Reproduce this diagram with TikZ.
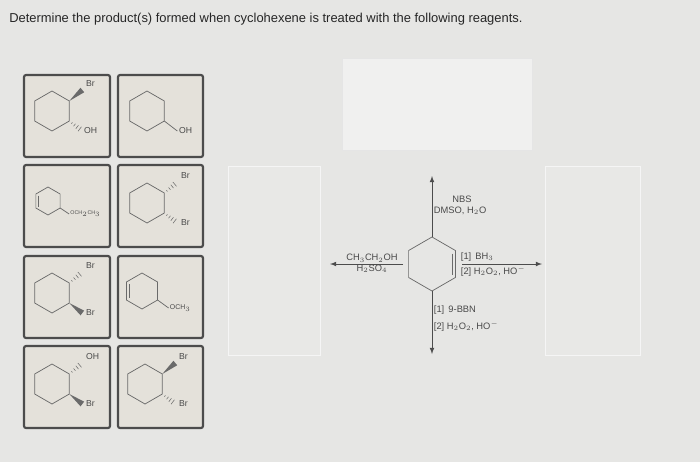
\documentclass[tikz,border=0pt]{standalone}
\usepackage{fontspec}
\setmainfont{Liberation Sans}
\usetikzlibrary{calc}
\definecolor{bg}{HTML}{E6E6E4}
\definecolor{tile}{HTML}{E4E1DA}
\definecolor{ink}{HTML}{6A6A6A}
\definecolor{txt}{HTML}{4A4A4A}
\tikzset{
  tilebox/.style={draw=black!70, line width=1.6pt, fill=tile, rounded corners=1.5pt},
  slot/.style={draw=black!10, line width=0.5pt, fill=white!40!bg},
  fslot/.style={draw=black!4, line width=0.4pt, fill=white!8!bg},
  bond/.style={draw=ink, line width=0.55pt},
  lab/.style={font=\fontsize{6.5}{7}\selectfont, text=txt, inner sep=1.2pt},
  wlab/.style={lab, inner sep=2.6pt},
  small/.style={font=\fontsize{4}{5}\selectfont, text=txt, inner sep=0.8pt},
  reag/.style={font=\fontsize{7}{8}\selectfont, text=txt, inner sep=0.5pt, align=left},
  arr/.style={draw=black!70, line width=0.6pt, -latex}
}
\newcommand\ring[3]{%
  \coordinate (vt) at (#1,#2-#3);
  \coordinate (vur) at ({#1+0.866*#3},{#2-0.5*#3});
  \coordinate (vlr) at ({#1+0.866*#3},{#2+0.5*#3});
  \coordinate (vb) at (#1,#2+#3);
  \coordinate (vll) at ({#1-0.866*#3},{#2+0.5*#3});
  \coordinate (vul) at ({#1-0.866*#3},{#2-0.5*#3});
  \draw[bond] (vt)--(vur)--(vlr)--(vb)--(vll)--(vul)--cycle;}
\newcommand\wedgeb[2]{\fill[ink] (#1) -- ($(#2)!2.2pt!90:(#1)$) -- ($(#2)!2.2pt!-90:(#1)$) -- cycle;}
\newcommand\hashb[2]{\foreach \t/\w in {0.2/0.6pt,0.4/1.1pt,0.6/1.6pt,0.8/2.1pt,1/2.5pt}{%
  \draw[ink, line width=0.4pt] ($(#1)!\t!(#2)!\w!90:(#2)$) -- ($(#1)!\t!(#2)!\w!-90:(#2)$);}}
\begin{document}
\begin{tikzpicture}[x=0.75pt,y=-0.75pt]
\fill[bg] (0,0) rectangle (700,462);
\useasboundingbox (0,0) rectangle (700,462);
\node[anchor=west, font=\fontsize{9.7}{11}\selectfont, text=black!85, inner sep=0] (title) at (9,19)
  {Determine the product(s) formed when cyclohexene is treated with the following reagents.};
\draw[slot] (342,58) rectangle (532,150);
\draw[fslot] (228,166) rectangle (320,355);
\draw[fslot] (545,166) rectangle (640,355);
\foreach \yy in {75,165,256,346}{
  \draw[tilebox] (24,\yy) rectangle (110,\yy+82);
  \draw[tilebox] (118,\yy) rectangle (203,\yy+82);}
% R1C1
\ring{52}{111}{20}
\coordinate (e1) at ($(vur)+(13,-11)$); \coordinate (e2) at ($(vlr)+(13,10)$);
\wedgeb{vur}{e1} \hashb{vlr}{e2}
\node[wlab,anchor=south west] (l1) at (e1) {Br};
\node[lab,anchor=west] (l2) at (e2) {OH};
% R1C2
\ring{147}{111}{20}
\coordinate (e1) at ($(vlr)+(13,10)$); \draw[bond] (vlr)--(e1);
\node[lab,anchor=west] (l3) at (e1) {OH};
% R2C1
\ring{48}{201}{14}
\draw[bond] ($(vul)+(2.5,1.5)$) -- ($(vll)+(2.5,-1.5)$);
\coordinate (e1) at ($(vlr)+(9,6)$); \draw[bond] (vlr)--(e1);
\node[small,anchor=west] (l4) at (e1) {OCH$_2$CH$_3$};
% R2C2
\ring{147}{203}{20}
\coordinate (e1) at ($(vur)+(13,-11)$); \coordinate (e2) at ($(vlr)+(13,10)$);
\hashb{vur}{e1} \hashb{vlr}{e2}
\node[wlab,anchor=south west] (l5) at (e1) {Br};
\node[wlab,anchor=west] (l6) at (e2) {Br};
% R3C1
\ring{52}{293}{20}
\coordinate (e1) at ($(vur)+(13,-11)$); \coordinate (e2) at ($(vlr)+(13,10)$);
\hashb{vur}{e1} \wedgeb{vlr}{e2}
\node[wlab,anchor=south west] (l7) at (e1) {Br};
\node[wlab,anchor=west] (l8) at (e2) {Br};
% R3C2
\ring{142}{291}{18}
\draw[bond] ($(vul)+(3,1.8)$) -- ($(vll)+(3,-1.8)$);
\coordinate (e1) at ($(vlr)+(11,8)$); \draw[bond] (vlr)--(e1);
\node[small,anchor=west,font=\fontsize{5.2}{6}\selectfont] (l9) at (e1) {OCH$_3$};
% R4C1
\ring{52}{384}{20}
\coordinate (e1) at ($(vur)+(13,-11)$); \coordinate (e2) at ($(vlr)+(13,10)$);
\hashb{vur}{e1} \wedgeb{vlr}{e2}
\node[wlab,anchor=south west] (l10) at (e1) {OH};
\node[wlab,anchor=west] (l11) at (e2) {Br};
% R4C2
\ring{145}{384}{20}
\coordinate (e1) at ($(vur)+(13,-11)$); \coordinate (e2) at ($(vlr)+(13,10)$);
\wedgeb{vur}{e1} \hashb{vlr}{e2}
\node[wlab,anchor=south west] (l12) at (e1) {Br};
\node[wlab,anchor=west] (l13) at (e2) {Br};
% central cyclohexene
\ring{432}{264}{27}
\coordinate (ct) at (vt); \coordinate (cb) at (vb);
\draw[bond] ($(vur)+(-3.5,3)$) -- ($(vlr)+(-3.5,-3)$);
\coordinate (upend) at (432,176); \coordinate (dnend) at (432,354);
\coordinate (lfst) at (403,264); \coordinate (lfend) at (330,264);
\coordinate (rtst) at (462,264); \coordinate (rtend) at (542,264);
\draw[arr] (ct) -- (upend);
\draw[arr] (cb) -- (dnend);
\draw[arr] (lfst) -- (lfend);
\draw[arr] (rtst) -- (rtend);
\node[reag,anchor=south] (nbs) at (462,204) {NBS};
\node[reag,anchor=north west] (dmso) at (433,206) {DMSO, H$_2$O};
\node[reag,anchor=south] (etoh) at (372,263) {CH$_3$CH$_2$OH};
\node[reag,anchor=north] (h2so4) at (372,264) {H$_2$SO$_4$};
\node[reag,anchor=south west] (bh3) at (460,262) {[1]\, BH$_3$};
\node[reag,anchor=north west] (ox1) at (460,265) {[2] H$_2$O$_2$, HO$^-$};
\node[reag,anchor=west] (bbn) at (433,310) {[1]\, 9-BBN};
\node[reag,anchor=west] (ox2) at (433,326) {[2] H$_2$O$_2$, HO$^-$};
\end{tikzpicture}
\end{document}
